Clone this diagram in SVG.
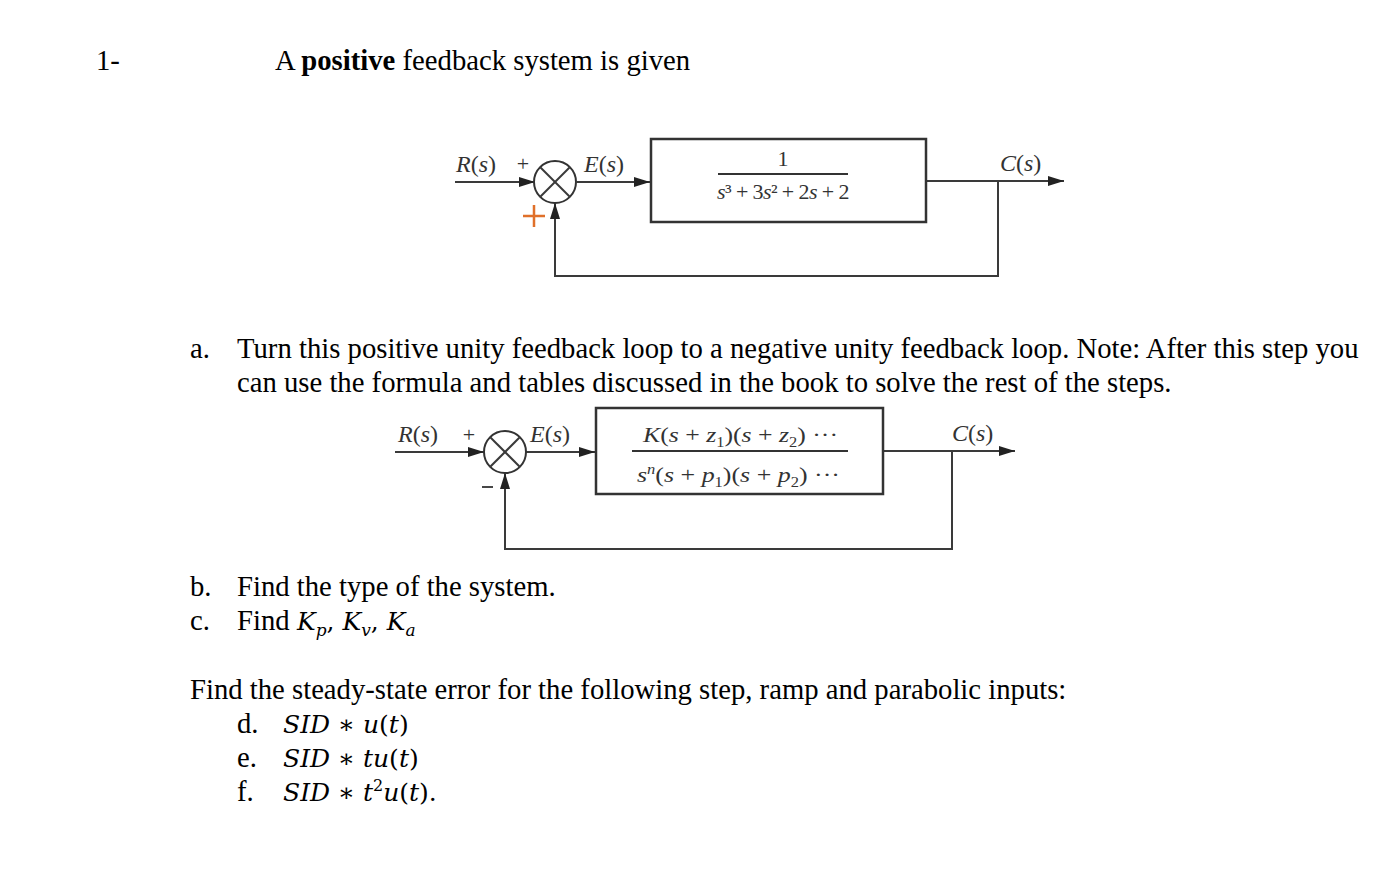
<svg xmlns="http://www.w3.org/2000/svg" width="1400" height="871" viewBox="0 0 1400 871">
<style>
.t{font-family:"Liberation Serif","Times New Roman",serif;font-size:28.7px;fill:#000}
.m{font-family:"DejaVu Serif","Liberation Serif",serif;font-style:italic;font-size:25px;fill:#000}
.lb{font-family:"Liberation Serif","Times New Roman",serif;font-size:22px;fill:#333}
.sl{font-family:"Liberation Serif","Times New Roman",serif;font-size:24px;fill:#333}
.it{font-style:italic}
.ln{fill:none;stroke:#3a3a3a;stroke-width:2}
.bx{fill:#fff;stroke:#333;stroke-width:2.5}
</style>
<defs>
<marker id="ah" viewBox="0 0 16 10" refX="16" refY="5" markerWidth="16" markerHeight="10" markerUnits="userSpaceOnUse" orient="auto">
<path d="M0,0 L16,5 L0,10 Z" fill="#222"/>
</marker>
</defs>
<rect width="1400" height="871" fill="#fff"/>

<g id="heading">
<text class="t" x="96" y="70">1-</text>
<text class="t" x="275" y="70">A <tspan font-weight="bold">positive</tspan> feedback system is given</text>
</g>

<!-- Diagram 1 -->
<g id="d1-connectors">
<line class="ln" x1="455" y1="182" x2="535" y2="182" marker-end="url(#ah)"/>
<line class="ln" x1="577" y1="182" x2="650" y2="182" marker-end="url(#ah)"/>
<line class="ln" x1="926" y1="181" x2="1064" y2="181" marker-end="url(#ah)"/>
<polyline class="ln" points="998,181 998,276 555,276 555,203" marker-end="url(#ah)"/>
</g>
<g id="d1-sum">
<circle cx="555" cy="182" r="21" fill="#fff" stroke="#333" stroke-width="2"/>
<line class="ln" x1="540" y1="167" x2="570" y2="197"/>
<line class="ln" x1="570" y1="167" x2="540" y2="197"/>
<text class="lb" x="523" y="171" text-anchor="middle" font-size="21">+</text>
<path d="M523,216 H545 M534,205 V227" stroke="#e0702a" stroke-width="2.5" fill="none"/>
</g>
<g id="d1-labels">
<text class="sl" x="456" y="172"><tspan class="it">R</tspan>(<tspan class="it">s</tspan>)</text>
<text class="sl" x="584" y="172"><tspan class="it">E</tspan>(<tspan class="it">s</tspan>)</text>
<text class="sl" x="1000" y="171"><tspan class="it">C</tspan>(<tspan class="it">s</tspan>)</text>
</g>
<g id="d1-block">
<rect class="bx" x="651" y="139" width="275" height="83"/>
<text class="lb" x="783" y="166" text-anchor="middle" font-size="21">1</text>
<line x1="718" y1="174" x2="848" y2="174" stroke="#333" stroke-width="1.8"/>
<text class="lb" x="783" y="199" font-size="21" letter-spacing="-0.6" text-anchor="middle"><tspan class="it">s</tspan>³ + 3<tspan class="it">s</tspan>² + 2<tspan class="it">s</tspan> + 2</text>
</g>

<!-- item a -->
<g id="item-a">
<text class="t" x="190" y="358">a.</text>
<text class="t" x="237" y="358">Turn this positive unity feedback loop to a negative unity feedback loop. Note: After this step you</text>
<text class="t" x="237" y="392">can use the formula and tables discussed in the book to solve the rest of the steps.</text>
</g>

<!-- Diagram 2 -->
<g id="d2-connectors">
<line class="ln" x1="395" y1="452" x2="484" y2="452" marker-end="url(#ah)"/>
<line class="ln" x1="526" y1="452" x2="595" y2="452" marker-end="url(#ah)"/>
<line class="ln" x1="883" y1="451" x2="1015" y2="451" marker-end="url(#ah)"/>
<polyline class="ln" points="952,451 952,549 505,549 505,473" marker-end="url(#ah)"/>
</g>
<g id="d2-sum">
<circle cx="505" cy="452" r="21" fill="#fff" stroke="#333" stroke-width="2"/>
<line class="ln" x1="490" y1="437" x2="520" y2="467"/>
<line class="ln" x1="520" y1="437" x2="490" y2="467"/>
<text class="lb" x="469" y="442" text-anchor="middle" font-size="21">+</text>
<line x1="482" y1="487" x2="493" y2="487" stroke="#333" stroke-width="1.8"/>
</g>
<g id="d2-labels">
<text class="sl" x="398" y="442"><tspan class="it">R</tspan>(<tspan class="it">s</tspan>)</text>
<text class="sl" x="530" y="442"><tspan class="it">E</tspan>(<tspan class="it">s</tspan>)</text>
<text class="sl" x="952" y="441"><tspan class="it">C</tspan>(<tspan class="it">s</tspan>)</text>
</g>
<g id="d2-block">
<rect class="bx" x="596" y="408" width="287" height="86"/>
<text class="lb" x="643" y="442" textLength="195" lengthAdjust="spacingAndGlyphs"><tspan class="it">K</tspan>(<tspan class="it">s</tspan> + <tspan class="it">z</tspan><tspan dy="5" font-size="14">1</tspan><tspan dy="-5">)(</tspan><tspan class="it">s</tspan> + <tspan class="it">z</tspan><tspan dy="5" font-size="14">2</tspan><tspan dy="-5">) ···</tspan></text>
<line x1="632" y1="451" x2="848" y2="451" stroke="#333" stroke-width="1.8"/>
<text class="lb" x="637" y="482" textLength="203" lengthAdjust="spacingAndGlyphs"><tspan class="it">s</tspan><tspan class="it" dy="-8" font-size="14">n</tspan><tspan dy="8">(</tspan><tspan class="it">s</tspan> + <tspan class="it">p</tspan><tspan dy="5" font-size="14">1</tspan><tspan dy="-5">)(</tspan><tspan class="it">s</tspan> + <tspan class="it">p</tspan><tspan dy="5" font-size="14">2</tspan><tspan dy="-5">) ···</tspan></text>
</g>

<!-- items b, c -->
<g id="item-b">
<text class="t" x="190" y="596">b.</text>
<text class="t" x="237" y="596">Find the type of the system.</text>
</g>
<g id="item-c">
<text class="t" x="190" y="630">c.</text>
<text class="t" x="237" y="630">Find</text>
<text class="m" x="297" y="630">K<tspan dy="6" font-size="17">p</tspan><tspan dy="-6" font-style="normal">, </tspan>K<tspan dy="6" font-size="17">v</tspan><tspan dy="-6" font-style="normal">, </tspan>K<tspan dy="6" font-size="17">a</tspan></text>
</g>

<!-- steady state -->
<g id="steady-state">
<text class="t" x="190" y="699">Find the steady-state error for the following step, ramp and parabolic inputs:</text>
<text class="t" x="237" y="733">d.</text>
<text class="m" x="283" y="733">SID <tspan font-style="normal">∗</tspan> u<tspan font-style="normal">(</tspan>t<tspan font-style="normal">)</tspan></text>
<text class="t" x="237" y="767">e.</text>
<text class="m" x="283" y="767">SID <tspan font-style="normal">∗</tspan> tu<tspan font-style="normal">(</tspan>t<tspan font-style="normal">)</tspan></text>
<text class="t" x="237" y="801">f.</text>
<text class="m" x="283" y="801">SID <tspan font-style="normal">∗</tspan> t<tspan dy="-10" font-size="16" font-style="normal">2</tspan><tspan dy="10">u</tspan><tspan font-style="normal">(</tspan>t<tspan font-style="normal">).</tspan></text>
</g>
</svg>
